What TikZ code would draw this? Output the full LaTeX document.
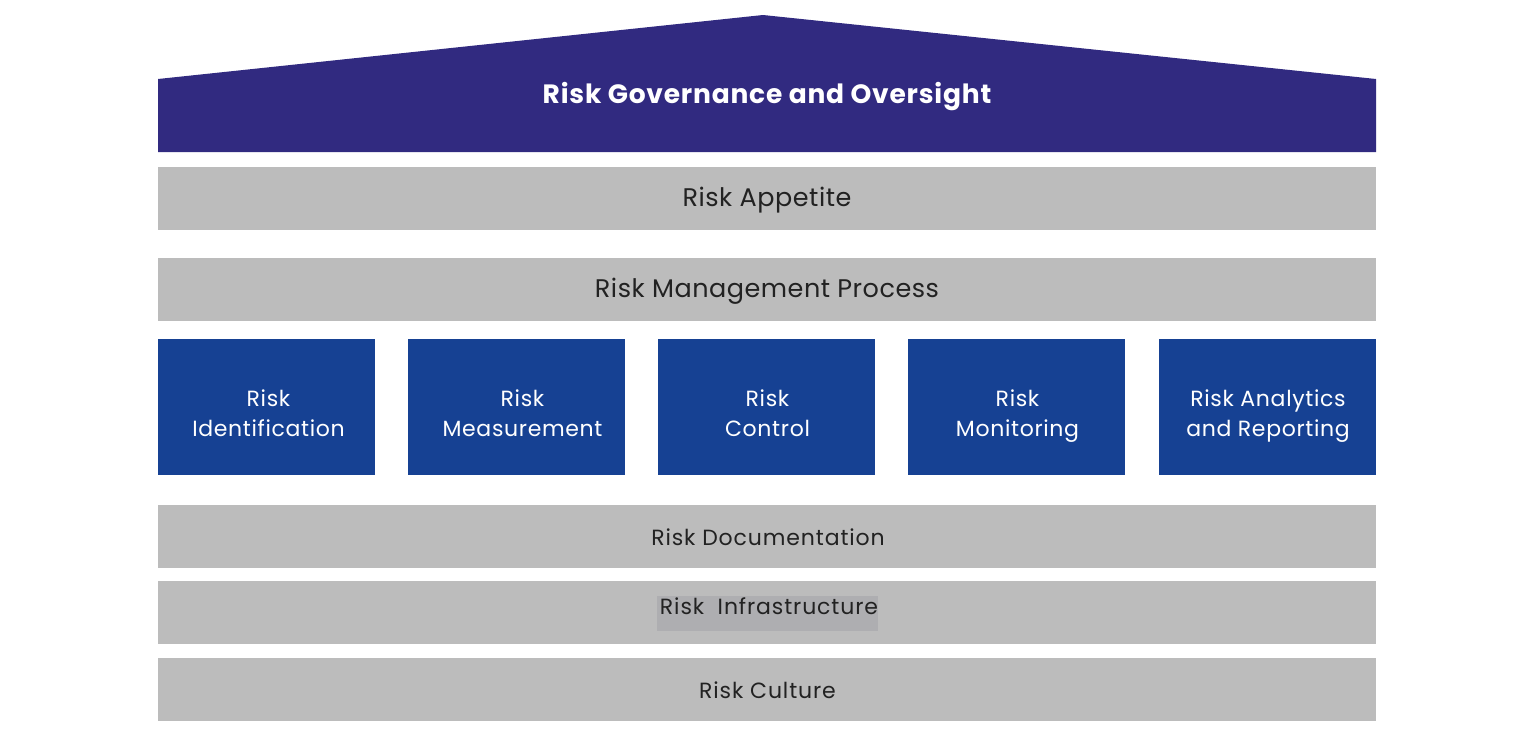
\documentclass[tikz,border=0pt]{standalone}
\usepackage{fontspec}
\setmainfont{Poppins}
\newfontfamily\upperfont[LetterSpace=2]{Poppins}
\newfontfamily\lowerfont[LetterSpace=4]{Poppins}
\newfontfamily\pillarfont[LetterSpace=3]{Poppins}
\newfontfamily\titlefont[LetterSpace=3]{Poppins}
\definecolor{roofc}{HTML}{312A80}
\definecolor{boxc}{HTML}{164193}
\definecolor{barc}{HTML}{BCBCBC}
\definecolor{hlc}{HTML}{AEAEB1}
\definecolor{txtc}{HTML}{222222}
\begin{document}
\begin{tikzpicture}[x=1pt,y=-1pt,
  bar/.style={fill=barc,draw=none,minimum width=1218pt,minimum height=63pt,inner sep=0pt},
  bartext/.style={text=txtc,inner sep=0pt,font=\lowerfont\fontsize{22}{26}\selectfont},
  uppertext/.style={text=txtc,inner sep=0pt,font=\upperfont\fontsize{25.5}{30}\selectfont},
  pillar/.style={fill=boxc,draw=none,minimum width=217pt,minimum height=136pt,inner sep=0pt},
  pillartext/.style={text=white,align=center,inner sep=0pt,font=\pillarfont\fontsize{22}{30}\selectfont},
  rooftext/.style={text=white,font=\titlefont\fontsize{26.5}{30}\selectfont\bfseries,inner sep=0pt}]
\useasboundingbox (0,0) rectangle (1536,737);
\fill[white] (0,0) rectangle (1536,737);
% roof
\fill[roofc] (158,79) -- (763,15) -- (1376,79) -- (1376,152) -- (158,152) -- cycle;
\node[rooftext] (gov) at (767,97) {Risk Governance and Oversight};
% upper bars
\node[bar] (appetite) at (767,198.5) {};
\node[uppertext] (appetiteT) at (767,200.5) {Risk Appetite};
\node[bar] (process) at (767,289) {};
\node[uppertext] (processT) at (767,291.5) {Risk Management Process};
% pillars
\node[pillar] (ident) at (266.5,407) {};
\node[pillar] (meas) at (516.5,407) {};
\node[pillar] (ctrl) at (766.5,407) {};
\node[pillar] (mon) at (1016.5,407) {};
\node[pillar] (anal) at (1267,407) {};
\node[pillartext] (identT) at (268.5,415) {Risk\strut\\Identification\strut};
\node[pillartext] (measT) at (522.5,415) {Risk\strut\\Measurement\strut};
\node[pillartext] (ctrlT) at (767.5,415) {Risk\strut\\Control\strut};
\node[pillartext] (monT) at (1017.5,415) {Risk\strut\\Monitoring\strut};
\node[pillartext] (analT) at (1268,415) {Risk Analytics\strut\\and Reporting\strut};
% lower bars
\node[bar] (doc) at (767,536) {};
\node[bartext] (docT) at (768,537) {Risk Documentation};
\node[bar] (infra) at (767,612.5) {};
\node[fill=hlc,minimum width=221pt,minimum height=35pt,inner sep=0pt] (hl) at (767.5,613.5) {};
\node[bartext] (infraT) at (769,606) {Risk\ \ Infrastructure};
\node[bar] (culture) at (767,689) {};
\node[bartext] (cultureT) at (767.5,690.5) {Risk Culture};
\end{tikzpicture}
\end{document}
